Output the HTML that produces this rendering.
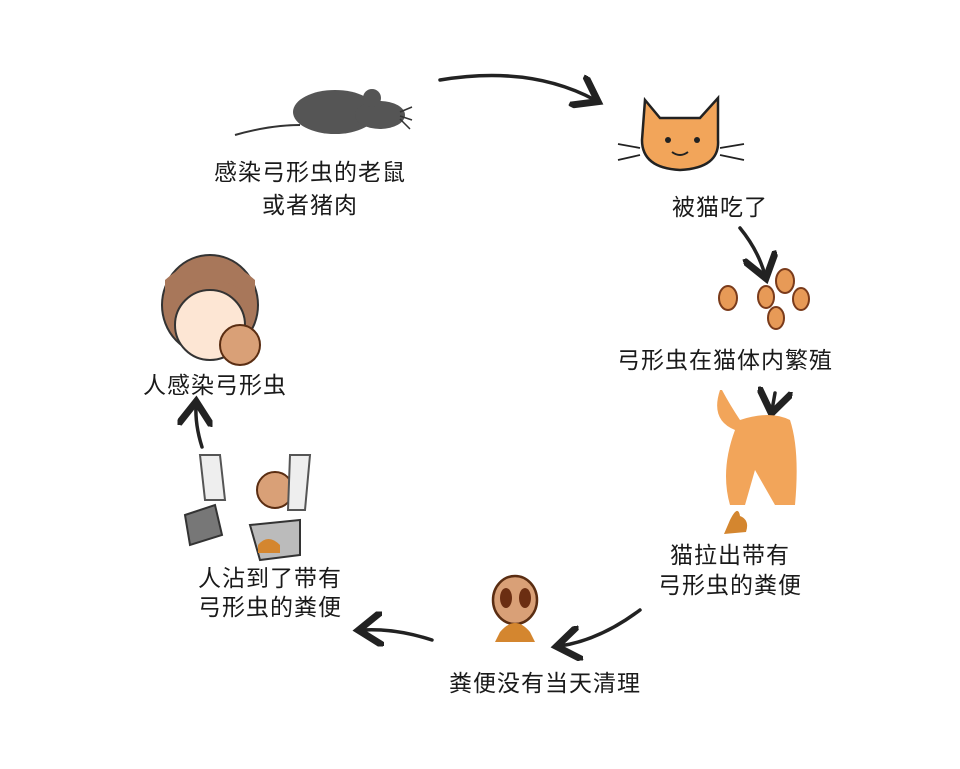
<!DOCTYPE html>
<html><head><meta charset="utf-8"><style>
html,body{margin:0;padding:0;background:#fff;}
.w{position:relative;width:960px;height:769px;overflow:hidden;background:#fff;}
.t{position:absolute;font-family:"Liberation Sans","Noto Sans CJK SC",sans-serif;font-size:23px;color:#1a1a1a;white-space:nowrap;text-align:center;line-height:30px;letter-spacing:1px;}
</style></head><body><div class="w">
<svg width="960" height="769" style="position:absolute;left:0;top:0">
<defs><marker id="a" markerWidth="10" markerHeight="10" refX="6" refY="5" orient="auto"><path d="M0,0 L7,5 L0,10" fill="none" stroke="#222" stroke-width="2"/></marker></defs>
<g fill="none" stroke="#222" stroke-width="3.5" stroke-linecap="round">
<path d="M440,80 Q530,65 595,100" marker-end="url(#a)"/>
<path d="M740,228 Q758,250 765,275" marker-end="url(#a)"/>
<path d="M775,393 L772,410" marker-end="url(#a)"/>
<path d="M640,610 Q600,640 560,646" marker-end="url(#a)"/>
<path d="M432,640 Q395,628 362,630" marker-end="url(#a)"/>
<path d="M202,447 Q195,425 196,405" marker-end="url(#a)"/>
</g>
<!-- mouse -->
<path d="M235,135 Q270,125 300,125" stroke="#333" stroke-width="2" fill="none"/>
<ellipse cx="335" cy="112" rx="42" ry="22" fill="#555"/>
<ellipse cx="380" cy="115" rx="25" ry="14" fill="#555"/>
<circle cx="372" cy="98" r="9" fill="#555"/>
<path d="M400,112 l12,-5 M400,116 l12,4 M400,119 l10,10" stroke="#333" stroke-width="1.5"/>
<!-- cat head -->
<path d="M645,100 L660,118 L700,118 L718,98 L718,140 Q720,168 680,170 Q642,168 642,140 Z" fill="#f2a55a" stroke="#222" stroke-width="2.5"/>
<circle cx="668" cy="140" r="3" fill="#222"/><circle cx="697" cy="140" r="3" fill="#222"/>
<path d="M672,152 q8,6 16,0" stroke="#222" stroke-width="2" fill="none"/>
<path d="M640,148 l-22,-4 M640,155 l-22,5 M720,148 l24,-4 M720,155 l24,5" stroke="#222" stroke-width="1.8"/>
<!-- dots -->
<g fill="#e79a57" stroke="#7a3b1b" stroke-width="2">
<ellipse cx="728" cy="298" rx="9" ry="12"/><ellipse cx="785" cy="281" rx="9" ry="12"/>
<ellipse cx="766" cy="297" rx="8" ry="11"/><ellipse cx="801" cy="299" rx="8" ry="11"/>
<ellipse cx="776" cy="318" rx="8" ry="11"/>
</g>
<!-- cat body -->
<path d="M720,390 Q710,420 735,430 Q720,470 730,505 L745,505 L755,470 L775,505 L795,505 Q800,450 790,420 Q770,410 740,420 Q730,405 722,390 Z" fill="#f2a55a"/>
<path d="M730,520 q8,-16 10,-4 q10,4 6,16 l-22,2 z" fill="#d4862f"/>
<!-- skull poop -->
<ellipse cx="515" cy="600" rx="22" ry="24" fill="#d9a077" stroke="#5a2d12" stroke-width="2.5"/>
<ellipse cx="506" cy="598" rx="6" ry="10" fill="#6b2e12"/><ellipse cx="525" cy="598" rx="6" ry="10" fill="#6b2e12"/>
<path d="M500,632 q15,-18 30,0 l5,10 h-40 z" fill="#d4862f"/>
<!-- girl -->
<ellipse cx="210" cy="305" rx="48" ry="50" fill="#a8775a" stroke="#333" stroke-width="2"/>
<ellipse cx="210" cy="325" rx="35" ry="35" fill="#fde6d4" stroke="#333" stroke-width="2"/>
<path d="M165,300 Q210,260 255,300 L255,280 Q210,240 165,280 Z" fill="#a8775a"/>
<ellipse cx="240" cy="345" rx="20" ry="20" fill="#d9a077" stroke="#5a2d12" stroke-width="2"/>
<!-- hands and scoops -->
<path d="M200,455 L220,455 L225,500 L205,500 Z" fill="#eee" stroke="#555" stroke-width="2"/>
<path d="M185,515 L215,505 L222,535 L190,545 Z" fill="#777" stroke="#333" stroke-width="2"/>
<ellipse cx="275" cy="490" rx="18" ry="18" fill="#d9a077" stroke="#5a2d12" stroke-width="2"/>
<path d="M290,455 L310,455 L305,510 L288,510 Z" fill="#eee" stroke="#555" stroke-width="2"/>
<path d="M250,525 L300,520 L300,555 L260,560 Z" fill="#bbb" stroke="#333" stroke-width="2"/>
<path d="M258,545 q10,-12 22,0 v8 h-22 z" fill="#d4862f"/>
</svg>
<div class="t" style="left:210px;top:157px;width:200px">感染弓形虫的老鼠</div>
<div class="t" style="left:260px;top:190px;width:100px">或者猪肉</div>
<div class="t" style="left:670px;top:192px;width:100px">被猫吃了</div>
<div class="t" style="left:605px;top:345px;width:240px">弓形虫在猫体内繁殖</div>
<div class="t" style="left:660px;top:540px;width:140px">猫拉出带有</div>
<div class="t" style="left:645px;top:570px;width:170px">弓形虫的粪便</div>
<div class="t" style="left:435px;top:668px;width:220px">粪便没有当天清理</div>
<div class="t" style="left:185px;top:563px;width:170px">人沾到了带有</div>
<div class="t" style="left:185px;top:592px;width:170px">弓形虫的粪便</div>
<div class="t" style="left:135px;top:370px;width:160px">人感染弓形虫</div>
</div></body></html>
